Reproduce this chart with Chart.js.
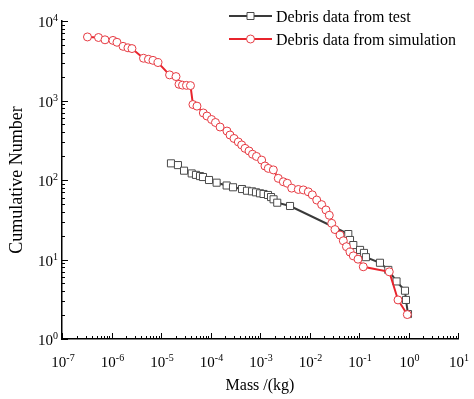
<!DOCTYPE html>
<html>
<head>
<meta charset="utf-8">
<script src="https://cdn.jsdelivr.net/npm/chart.js@4/dist/chart.umd.min.js"></script>
<style>
  html, body { margin: 0; padding: 0; background: #fff; }
  #wrap { width: 474px; height: 399px; }
</style>
</head>
<body>
<div id="wrap"><canvas id="myChart" width="474" height="399"></canvas></div>
<script>
// Debris mass distribution, test vs simulation (log-log)

const testMass = [1.59e-5, 2.20e-5, 2.92e-5, 4.17e-5, 5.09e-5, 6.14e-5, 7.05e-5, 9.33e-5,
  1.33e-4, 2.12e-4, 2.85e-4, 4.33e-4, 5.46e-4, 6.89e-4, 8.30e-4,
  1.00e-3, 1.18e-3, 1.45e-3, 1.67e-3, 1.88e-3, 2.23e-3, 4.04e-3,
  6.08e-2, 6.58e-2, 7.67e-2, 0.105, 0.126, 0.138, 0.265, 0.391, 0.573, 0.849, 0.889, 0.977];
const testCount = [162, 154, 131, 121, 116, 112, 109, 100,
  92.5, 85.3, 81, 77, 73.3, 72, 70,
  68, 66.7, 64.8, 61, 57.2, 51.8, 47.1,
  20.9, 17.6, 15.2, 13.2, 12.1, 10.7, 9.1, 7.4, 5.3, 4.05, 3.1, 2.06];

const simMass = [3.27e-7, 5.46e-7, 7.39e-7, 1.07e-6, 1.29e-6, 1.71e-6, 2.15e-6, 2.59e-6,
  4.43e-6, 5.58e-6, 6.88e-6, 8.69e-6, 1.49e-5, 2.01e-5, 2.31e-5, 2.72e-5, 3.27e-5, 3.94e-5,
  4.42e-5, 5.33e-5, 7.16e-5, 8.49e-5, 1.05e-4, 1.26e-4,
  1.56e-4, 2.15e-4, 2.48e-4, 2.99e-4, 3.65e-4, 4.26e-4, 4.98e-4, 6.00e-4, 7.05e-4, 8.49e-4,
  1.08e-3, 1.26e-3, 1.47e-3, 1.86e-3, 2.34e-3, 2.96e-3, 3.56e-3, 4.37e-3, 5.94e-3, 7.50e-3, 9.46e-3,
  1.14e-2, 1.40e-2, 1.76e-2, 2.15e-2, 2.51e-2, 2.81e-2, 3.27e-2, 4.13e-2, 4.82e-2, 5.58e-2, 6.58e-2, 7.67e-2, 9.55e-2,
  0.122, 0.409, 0.614, 0.946];
const simCount = [6300, 6200, 5800, 5700, 5400, 4800, 4600, 4500,
  3400, 3300, 3200, 3000, 2100, 2000, 1600, 1560, 1550, 1540,
  890, 850, 697, 638, 577, 529,
  464, 413, 368, 333, 301, 276, 250, 232, 211, 198,
  178, 150, 140, 134, 105, 95, 91, 79, 76, 75, 71,
  65, 56, 49, 42, 36, 28.5, 23.8, 20.3, 17.2, 14.5, 12.4, 11.1, 10.1,
  8.1, 7.0, 3.1, 2.03];

const seriesLabels = ['Debris data from test', 'Debris data from simulation'];
const xTickExps = [-7, -6, -5, -4, -3, -2, -1, 0, 1];   // 10^n on mass axis
const yTickExps = [0, 1, 2, 3, 4];                     // 10^n on count axis

const serif = '"Liberation Serif", "Times New Roman", serif';

function toPoints(xs, ys) {
  return xs.map((x, i) => ({x: x, y: ys[i]}));
}

// power-of-ten labels with raised exponent, plus inward major/minor ticks
const logAxisDecor = {
  id: 'logAxisDecor',
  afterDraw(chart) {
    const ctx = chart.ctx;
    const xs = chart.scales.x, ys = chart.scales.y;
    ctx.save();
    ctx.strokeStyle = '#000';
    ctx.lineWidth = 1;
    ctx.beginPath();
    xTickExps.forEach((e, k) => {
      for (let m = 1; m < 10; m++) {
        if (k === xTickExps.length - 1 && m > 1) break;
        const px = Math.round(xs.getPixelForValue(m * Math.pow(10, e))) + 0.5;
        const len = m === 1 ? 6 : 3;
        ctx.moveTo(px, xs.top);
        ctx.lineTo(px, xs.top - len);
      }
    });
    yTickExps.forEach((e, k) => {
      for (let m = 1; m < 10; m++) {
        if (k === yTickExps.length - 1 && m > 1) break;
        const py = Math.round(ys.getPixelForValue(m * Math.pow(10, e))) + 0.5;
        const len = m === 1 ? 6 : 3;
        ctx.moveTo(ys.right, py);
        ctx.lineTo(ys.right + len, py);
      }
    });
    ctx.stroke();

    ctx.fillStyle = '#000';
    ctx.textBaseline = 'alphabetic';
    ctx.textAlign = 'left';
    const baseFont = '15px ' + serif, supFont = '10px ' + serif;
    function measure(exp) {
      ctx.font = baseFont; const w1 = ctx.measureText('10').width;
      ctx.font = supFont; const w2 = ctx.measureText(String(exp)).width;
      return [w1, w2];
    }
    function label(exp, x0, baseY) {
      const [w1] = measure(exp);
      ctx.font = baseFont; ctx.fillText('10', x0, baseY);
      ctx.font = supFont; ctx.fillText(String(exp), x0 + w1, baseY - 6);
    }
    xTickExps.forEach(e => {
      const px = xs.getPixelForValue(Math.pow(10, e));
      const [w1, w2] = measure(e);
      label(e, px - (w1 + w2) / 2 + 1, xs.top + 28);
    });
    yTickExps.forEach(e => {
      const py = ys.getPixelForValue(Math.pow(10, e));
      const [w1, w2] = measure(e);
      label(e, ys.right - 4 - w1 - w2, py + 6);
    });
    ctx.restore();
  }
};

// legend with line sample and marker, top right
const sampleLegend = {
  id: 'sampleLegend',
  afterDraw(chart) {
    const ctx = chart.ctx;
    ctx.save();
    chart.data.datasets.forEach((ds, i) => {
      const y = 16 + i * 23;
      ctx.strokeStyle = ds.borderColor;
      ctx.lineWidth = 2;
      ctx.beginPath();
      ctx.moveTo(229, y); ctx.lineTo(272, y);
      ctx.stroke();
      ctx.fillStyle = '#fff';
      ctx.strokeStyle = ds.pointBorderColor;
      ctx.lineWidth = 1;
      ctx.beginPath();
      if (ds.pointStyle === 'rect') {
        ctx.rect(247, y - 3.5, 7, 7);
      } else {
        ctx.arc(250.5, y, 4, 0, Math.PI * 2);
      }
      ctx.fill(); ctx.stroke();
      ctx.fillStyle = '#000';
      ctx.font = '16px ' + serif;
      ctx.textBaseline = 'middle';
      ctx.fillText(ds.label, 276, y + 2);
    });
    ctx.restore();
  }
};

const ctx = document.getElementById('myChart');

const myChart = new Chart(ctx, {
  type: 'line',
  data: {
    datasets: [{
      label: seriesLabels[0],
      data: toPoints(testMass, testCount),
      borderColor: '#3a3a3a',
      borderWidth: 2,
      pointStyle: 'rect',
      pointRadius: 5,
      pointBorderColor: '#4a4a4a',
      pointBorderWidth: 1,
      pointBackgroundColor: '#fff',
      order: 1
    },
    {
      label: seriesLabels[1],
      data: toPoints(simMass, simCount),
      borderColor: '#e8242c',
      borderWidth: 2,
      pointStyle: 'circle',
      pointRadius: 4,
      pointBorderColor: '#e63a42',
      pointBorderWidth: 1,
      pointBackgroundColor: '#fff',
      order: 0
    }]
  },
  options: {
    responsive: false,
    animation: false,
    events: [],
    layout: {
      padding: {left: 0, right: 16, top: 21, bottom: 0}
    },
    elements: {
      line: {tension: 0}
    },
    scales: {
      x: {
        type: 'logarithmic',
        position: 'bottom',
        min: 1e-7,
        max: 10,
        ticks: {display: false},
        grid: {display: false, drawTicks: false},
        border: {display: true, color: '#000', width: 1.5},
        title: {
          display: true,
          text: 'Mass /(kg)',
          color: '#000',
          font: {family: serif, size: 16, lineHeight: 1.2},
          padding: {top: 37.4, bottom: 3.4}
        }
      },
      y: {
        type: 'logarithmic',
        position: 'left',
        min: 1,
        max: 1e4,
        ticks: {display: false},
        grid: {display: false, drawTicks: false},
        border: {display: true, color: '#000', width: 1.5},
        title: {
          display: true,
          text: 'Cumulative Number',
          color: '#000',
          font: {family: serif, size: 18, lineHeight: 1.2},
          padding: {top: 6.7, bottom: 33.7}
        }
      }
    },
    plugins: {
      legend: {display: false},
      tooltip: {enabled: false}
    }
  },
  plugins: [logAxisDecor, sampleLegend]
});
</script>
</body>
</html>
